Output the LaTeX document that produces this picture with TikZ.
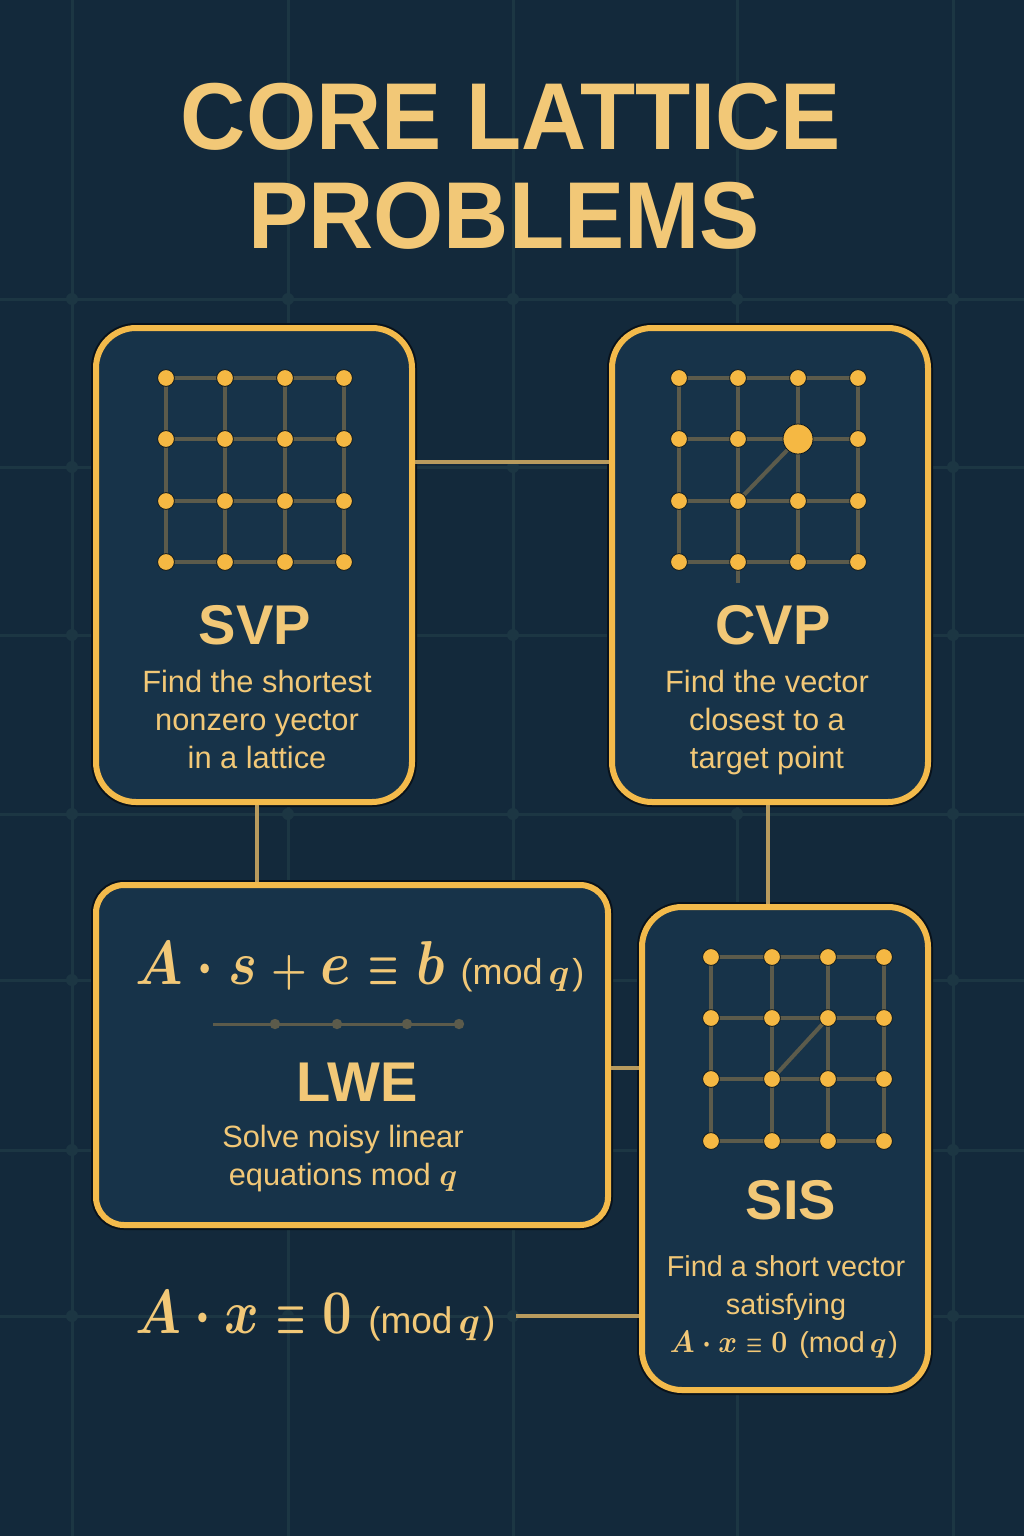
\RequirePackage{fix-cm}
\documentclass[tikz,border=0pt]{standalone}
\usepackage{amsmath}
\usepackage{graphicx}
\usepackage[no-math]{fontspec}
\setmainfont{Liberation Sans}
\usetikzlibrary{calc}
\definecolor{bg}{HTML}{13293B}
\definecolor{boxfill}{HTML}{173349}
\definecolor{gridc}{HTML}{1C3643}
\definecolor{gold}{HTML}{F3BA4B}
\definecolor{txt}{HTML}{F2C877}
\definecolor{dotc}{HTML}{F5B843}
\definecolor{latl}{HTML}{5C5B4B}
\definecolor{connc}{HTML}{B89B5E}
\newcommand\smeq{\mathrel{\scalebox{0.62}[0.85]{$\equiv$}}}
\newcommand\smplus{\mathbin{\scalebox{0.75}{$+$}}}
\begin{document}
\begin{tikzpicture}[x=0.5pt,y=-0.5pt,
  every node/.style={text=txt, inner sep=0pt},
  pbox/.style={draw=gold, line width=3pt, fill=boxfill, rounded corners=20pt,
    preaction={draw=black!55!bg, line width=5pt}},
  conn/.style={draw=connc, line width=2pt},
  head/.style={font=\fontsize{28}{30}\selectfont\bfseries},
  body/.style={font=\fontsize{15.4}{18.9}\selectfont, align=center},
  title/.style={font=\fontsize{47.5}{50}\selectfont\bfseries},
  lline/.style={draw=latl, line width=2pt},
  ldot/.style={fill=dotc, draw=black!45!bg, line width=0.4pt},
]
\fill[bg] (0,0) rectangle (1024,1536);
\useasboundingbox (0,0) rectangle (1024,1536);
% background grid
\foreach \x in {72,288,513,737,953} \draw[gridc, line width=1.5pt] (\x,0) -- (\x,1536);
\foreach \y in {299,467,635,814,980,1150,1316} \draw[gridc, line width=1.5pt] (0,\y) -- (1024,\y);
\foreach \x in {72,288,513,737,953} \foreach \y in {299,467,635,814,980,1150,1316} \fill[gridc] (\x,\y) circle (3pt);
% title
\node[title] (t1) at (511,117) {\scalebox{0.95}[1]{CORE LATTICE}};
\node[title] (t2) at (504,216) {\scalebox{0.95}[1]{PROBLEMS}};
% boxes
\node[pbox, minimum width=158pt, minimum height=237pt] (svp) at (254,565) {};
\node[pbox, minimum width=158pt, minimum height=237pt] (cvp) at (770,565) {};
\node[pbox, rounded corners=14pt, minimum width=256pt, minimum height=170pt] (lwe) at (352,1055) {};
\node[pbox, minimum width=143pt, minimum height=241.5pt] (sis) at (785,1148.5) {};
% connectors
\draw[conn] ([yshift=51.5pt]svp.east) -- ([yshift=51.5pt]cvp.west);
\draw[conn] ([xshift=1.5pt]svp.south) -- ([xshift=1.5pt]svp.south |- lwe.north);
\draw[conn] ([xshift=-1pt]cvp.south) -- ([xshift=-1pt]cvp.south |- sis.north);
\draw[conn] ([yshift=-6.5pt]lwe.east) -- ([yshift=-6.5pt]lwe.east -| sis.west);
\coordinate (axend) at (516,1316);
\draw[conn] (axend) -- (axend -| sis.west);
% SVP lattice
\foreach \x in {166,225,285,344} \draw[lline] (\x,378) -- (\x,562);
\foreach \y in {378,439,501,562} \draw[lline] (166,\y) -- (344,\y);
\foreach \x in {166,225,285,344} \foreach \y in {378,439,501,562} \filldraw[ldot] (\x,\y) circle (4.2pt);
% CVP lattice
\foreach \x in {679,738,798,858} \draw[lline] (\x,378) -- (\x,562);
\foreach \y in {378,439,501,562} \draw[lline] (679,\y) -- (858,\y);
\draw[lline] (738,501) -- (798,439);
\draw[lline] (738,562) -- (738,583);
\foreach \x in {679,738,798,858} \foreach \y in {378,439,501,562} \filldraw[ldot] (\x,\y) circle (4.2pt);
\filldraw[ldot] (798,439) circle (7.5pt);
% SIS lattice
\foreach \x in {711,772,828,884} \draw[lline] (\x,957) -- (\x,1141);
\foreach \y in {957,1018,1079,1141} \draw[lline] (711,\y) -- (884,\y);
\draw[lline] (772,1079) -- (828,1018);
\foreach \x in {711,772,828,884} \foreach \y in {957,1018,1079,1141} \filldraw[ldot] (\x,\y) circle (4.2pt);
% SVP text
\node[head] (svpt) at (255,625) {SVP};
\node[body, anchor=north] (svpd) at (257,670) {Find the shortest\\nonzero yector\\in a lattice};
% CVP text
\node[head] (cvpt) at (773,625) {CVP};
\node[body, anchor=north] (cvpd) at (767,670) {Find the vector\\closest to a\\target point};
% LWE
\node[anchor=base west] (lwef) at (135,984) {\scalebox{0.88}[1]{\fontsize{31}{31}\selectfont\boldmath$A\cdot s\smplus e\smeq b$}\hspace{8pt}{\fontsize{18}{20}\selectfont(mod\,{\boldmath$q$}\kern1.5pt)}};
\draw[lline, line width=1.5pt] (213,1024) -- (463,1024);
\foreach \x in {275,337,407,459} \fill[latl] (\x,1024) circle (2.6pt);
\node[head] (lwet) at (357,1082) {LWE};
\node[body, anchor=north] (lwed) at (343,1125) {Solve noisy linear\\equations mod {\boldmath$q$}};
% SIS text
\node[head] (sist) at (791,1200) {SIS};
\node[font=\fontsize{14.4}{19.3}\selectfont, align=center, anchor=north] (sisd) at (786,1255) {Find a short vector\\satisfying};
\node[anchor=base] (sisf) at (784,1352) {\scalebox{0.92}[1]{\fontsize{15.5}{16}\selectfont\boldmath$A\cdot x\smeq 0$}\hspace{6pt}{\fontsize{14.4}{16}\selectfont(mod\,{\boldmath$q$}\kern1pt)}};
% bottom formula
\node[anchor=base west] (axf) at (135,1333) {\scalebox{0.85}[1]{\fontsize{31}{31}\selectfont\boldmath$A\cdot x\smeq 0$}\hspace{8pt}{\fontsize{18.5}{20}\selectfont(mod\,{\boldmath$q$}\kern1.5pt)}};
\end{tikzpicture}
\end{document}
